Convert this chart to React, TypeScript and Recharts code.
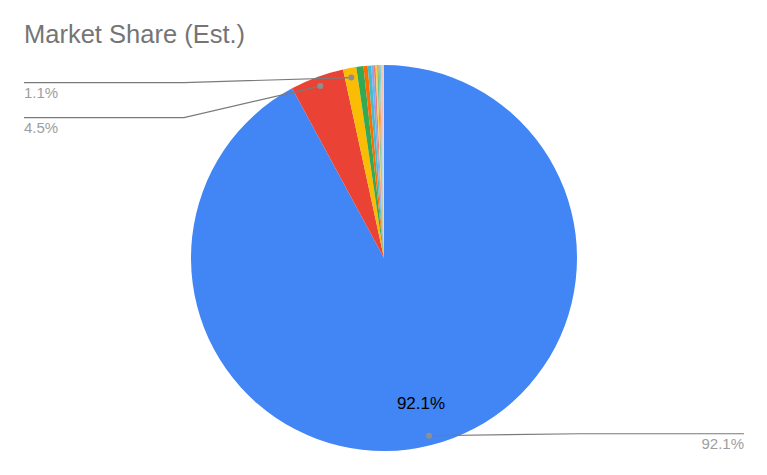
import React from "react";
import { Cell, Pie, PieChart } from "recharts";

// slices clockwise from 12 o'clock
const categories = [
  "A", "B", "C", "D", "E", "F", "G", "H", "I", "J", "K", "L", "M", "N", "O", "P",
];
const shares = [
  92.1, 4.5, 1.1, 0.6, 0.35, 0.3, 0.2, 0.15, 0.13, 0.12, 0.1, 0.09, 0.08, 0.07, 0.06, 0.05,
];
const colors = [
  "#4285f4", "#ea4335", "#fbbc04", "#34a853", "#ff6d01", "#46bdc6", "#7baaf7", "#f07b72",
  "#fcd04f", "#71c287", "#ff994d", "#7ed1d7", "#b3cefb", "#f7a7a0", "#fde49b", "#d5c39a",
];

const data = categories.map((name, i) => ({ name, value: shares[i] }));

const W = 767;
const H = 475;
const CX = 384;
const CY = 258;
const R = 193;
const RAD = Math.PI / 180;
const LABEL_MIN = 0.01;

const total = shares.reduce((a, b) => a + b, 0);

// same angles the pie uses (start at 90deg, clockwise)
function midAngleOf(i: number) {
  const before = shares.slice(0, i).reduce((a, b) => a + b, 0);
  return 90 - ((before + shares[i] / 2) / total) * 360;
}

function dotOf(i: number) {
  const a = midAngleOf(i) * RAD;
  return { x: CX + 0.95 * R * Math.cos(a), y: CY - 0.95 * R * Math.sin(a) };
}

// stack the left-hand outside labels so they don't collide
const leftElbow: Record<number, number> = {};
(() => {
  const left = shares
    .map((v, i) => i)
    .filter((i) => shares[i] / total >= LABEL_MIN && Math.cos(midAngleOf(i) * RAD) < 0)
    .sort((a, b) => dotOf(a).y - dotOf(b).y);
  let prev = -Infinity;
  left.forEach((i) => {
    const y = Math.max(dotOf(i).y + 5, prev + 35);
    leftElbow[i] = y;
    prev = y;
  });
})();

const renderLabel = (props: any) => {
  const { cx, cy, midAngle, outerRadius, percent, index } = props;
  if (percent < LABEL_MIN) return null;
  const a = midAngle * RAD;
  const txt = `${(percent * 100).toFixed(1)}%`;
  const dx = cx + 0.95 * outerRadius * Math.cos(a);
  const dy = cy - 0.95 * outerRadius * Math.sin(a);
  const isLeft = Math.cos(a) < 0;
  const ey = isLeft ? leftElbow[index] ?? dy : dy - 2;
  const ex = isLeft ? cx - outerRadius - 7 : cx + outerRadius + 3;
  const endX = isLeft ? 24 : 744;
  const inner =
    percent >= 0.1 ? (
      <text
        x={cx + 0.78 * outerRadius * Math.cos(a)}
        y={cy - 0.78 * outerRadius * Math.sin(a)}
        textAnchor="middle"
        dominantBaseline="central"
        fill="#000"
        fontSize={17}
        fontFamily="Arial, 'Liberation Sans', sans-serif"
      >
        {txt}
      </text>
    ) : null;
  return (
    <g key={`lbl-${index}`}>
      {inner}
      <polyline
        points={`${dx},${dy} ${ex},${ey} ${endX},${ey}`}
        fill="none"
        stroke="#7a7a7a"
        strokeWidth={1.2}
      />
      <circle cx={dx} cy={dy} r={3} fill="#8f8f8f" />
      <text
        x={endX}
        y={ey + 15}
        textAnchor={isLeft ? "start" : "end"}
        fill="#9e9e9e"
        fontSize={15}
        fontFamily="Arial, 'Liberation Sans', sans-serif"
      >
        {txt}
      </text>
    </g>
  );
};

export default function App() {
  return (
    <div style={{ position: "fixed", left: 0, top: 0, width: W, height: H, background: "#fff" }}>
      <div
        style={{
          position: "absolute",
          left: 24,
          top: 22,
          fontFamily: "Arial, 'Liberation Sans', sans-serif",
          fontSize: 25.5,
          lineHeight: "25.5px",
          color: "#757575",
          whiteSpace: "nowrap",
        }}
      >
        Market Share (Est.)
      </div>
      <PieChart width={W} height={H} margin={{ top: 0, right: 0, bottom: 0, left: 0 }}>
        <Pie
          data={data}
          dataKey="value"
          nameKey="name"
          cx={CX}
          cy={CY}
          outerRadius={R}
          startAngle={90}
          endAngle={-270}
          stroke="none"
          labelLine={false}
          label={renderLabel}
          isAnimationActive={false}
        >
          {data.map((d, i) => (
            <Cell key={d.name} fill={colors[i]} stroke="none" />
          ))}
        </Pie>
      </PieChart>
    </div>
  );
}
